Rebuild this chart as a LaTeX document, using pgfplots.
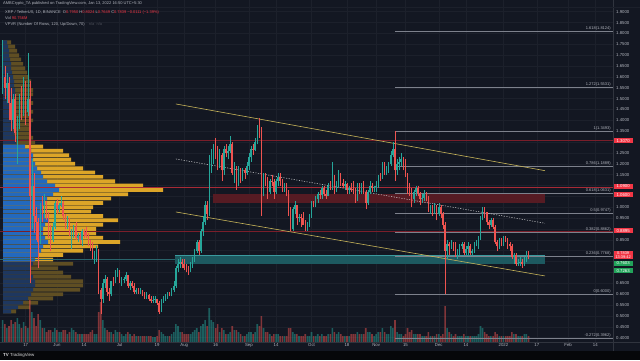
\documentclass[border=0pt]{standalone}
\usepackage{pgfplots}
\pgfplotsset{compat=1.18}
\usepackage{pgfplotstable}
\usepackage{fontspec}
\setmainfont{Liberation Sans}

\definecolor{bg}{HTML}{131722}
\definecolor{gridc}{HTML}{1C202B}
\definecolor{upc}{HTML}{26A69A}
\definecolor{dnc}{HTML}{EF5350}
\definecolor{lab}{HTML}{B2B5BE}
\definecolor{fibc}{HTML}{7D818C}
\definecolor{chan}{HTML}{C8B55A}
\definecolor{redbox}{HTML}{F23645}
\definecolor{grnbox}{HTML}{22A35A}
\definecolor{zoner}{HTML}{561B23}
\definecolor{zonet}{HTML}{1D5960}
\definecolor{zonetl}{HTML}{3A9A9E}
\definecolor{redln}{HTML}{7A1E2A}
\definecolor{redln2}{HTML}{A82A36}
\definecolor{vpo}{HTML}{DCA528}
\definecolor{vpb}{HTML}{2369BE}
\definecolor{vpod}{HTML}{5F4E23}
\definecolor{vpbd}{HTML}{1E375F}

\pgfplotstableread{
d o h l c v
-26 1.58 1.77 1.52 1.60 22
-25 1.60 1.65 1.50 1.55 18
-24 1.55 1.62 1.48 1.57 14
-23 1.57 1.60 1.40 1.48 16
-22 1.48 1.55 1.35 1.40 22
-21 1.40 1.52 1.36 1.50 18
-20 1.50 1.52 1.30 1.34 20
-19 1.34 1.42 1.20 1.40 24
-18 1.40 1.52 1.36 1.48 18
-17 1.48 1.56 1.40 1.45 14
-16 1.45 1.60 1.42 1.52 20
-15 1.52 1.58 1.38 1.44 16
-14 1.44 1.71 1.42 1.50 14
-13 1.50 1.58 0.65 1.05 42
-12 1.05 1.22 0.90 1.10 30
-11 1.10 1.16 0.88 0.96 24
-10 0.96 1.00 0.85 0.93 16
-9 0.93 0.95 0.72 0.84 28
-8 0.84 1.02 0.83 0.99 22
-7 0.99 1.05 0.93 0.97 14
-6 0.97 1.06 0.95 1.01 14
-5 1.01 1.03 0.94 0.97 10
-4 0.97 0.98 0.86 0.89 12
-3 0.89 0.92 0.80 0.85 12
-2 0.85 0.93 0.84 0.91 10
-1 0.91 1.03 0.90 1.02 14
0 1.02 1.04 0.97 0.99 12
1 0.99 1.02 0.98 1.01 10
2 1.01 1.05 1.00 1.02 10
3 1.02 1.03 0.94 0.96 12
4 0.96 0.97 0.90 0.92 12
5 0.92 0.96 0.90 0.94 8
6 0.94 0.95 0.87 0.88 10
7 0.88 0.90 0.81 0.89 14
8 0.89 0.92 0.86 0.91 12
9 0.91 0.93 0.85 0.86 10
10 0.86 0.88 0.84 0.87 8
11 0.87 0.88 0.83 0.85 8
12 0.85 0.90 0.82 0.89 8
13 0.89 0.90 0.86 0.885 8
14 0.885 0.91 0.86 0.87 8
15 0.87 0.88 0.82 0.83 8
16 0.83 0.85 0.80 0.825 10
17 0.825 0.84 0.76 0.77 12
18 0.77 0.80 0.74 0.78 8
19 0.78 0.82 0.75 0.80 8
20 0.80 0.81 0.60 0.62 30
21 0.62 0.63 0.51 0.58 40
22 0.58 0.67 0.56 0.65 22
23 0.65 0.69 0.63 0.67 14
24 0.67 0.68 0.59 0.61 12
25 0.61 0.63 0.57 0.60 10
26 0.60 0.66 0.59 0.66 10
27 0.66 0.68 0.64 0.655 8
28 0.655 0.71 0.65 0.70 12
29 0.70 0.72 0.68 0.705 10
30 0.705 0.71 0.65 0.66 10
31 0.66 0.68 0.64 0.665 8
32 0.665 0.68 0.65 0.67 6
33 0.67 0.70 0.66 0.69 8
34 0.69 0.69 0.63 0.64 10
35 0.64 0.66 0.62 0.65 8
36 0.65 0.66 0.63 0.64 6
37 0.64 0.65 0.60 0.61 8
38 0.61 0.63 0.60 0.62 6
39 0.62 0.63 0.60 0.61 6
40 0.61 0.63 0.60 0.62 6
41 0.62 0.62 0.59 0.60 6
42 0.60 0.61 0.58 0.59 6
43 0.59 0.61 0.58 0.595 6
44 0.595 0.60 0.57 0.58 6
45 0.58 0.59 0.56 0.57 6
46 0.57 0.59 0.56 0.575 5
47 0.575 0.59 0.56 0.58 5
48 0.58 0.58 0.55 0.56 6
49 0.56 0.57 0.51 0.52 12
50 0.52 0.58 0.52 0.57 10
51 0.57 0.59 0.56 0.58 8
52 0.58 0.60 0.57 0.59 6
53 0.59 0.61 0.58 0.60 6
54 0.60 0.61 0.59 0.595 6
55 0.595 0.63 0.59 0.62 8
56 0.62 0.66 0.61 0.64 10
57 0.64 0.73 0.63 0.72 18
58 0.72 0.76 0.70 0.74 16
59 0.74 0.77 0.72 0.75 10
60 0.75 0.76 0.72 0.74 10
61 0.74 0.76 0.71 0.72 8
62 0.72 0.74 0.70 0.715 8
63 0.715 0.73 0.69 0.71 8
64 0.71 0.75 0.70 0.74 8
65 0.74 0.77 0.72 0.76 10
66 0.76 0.81 0.75 0.80 12
67 0.80 0.85 0.79 0.84 14
68 0.84 0.85 0.78 0.80 10
69 0.80 0.90 0.79 0.89 16
70 0.89 0.96 0.87 0.93 18
71 0.93 1.03 0.92 1.01 22
72 1.01 1.03 0.94 0.97 16
73 0.97 1.24 0.96 1.22 34
74 1.22 1.27 1.16 1.23 22
75 1.23 1.29 1.20 1.28 20
76 1.28 1.32 1.22 1.27 14
77 1.27 1.28 1.17 1.21 18
78 1.21 1.27 1.18 1.24 10
79 1.24 1.25 1.12 1.17 14
80 1.17 1.28 1.15 1.27 12
81 1.27 1.29 1.23 1.25 8
82 1.25 1.28 1.22 1.26 8
83 1.26 1.33 1.25 1.29 10
84 1.29 1.30 1.15 1.16 16
85 1.16 1.21 1.11 1.18 12
86 1.18 1.19 1.08 1.13 12
87 1.13 1.19 1.10 1.17 10
88 1.17 1.18 1.11 1.14 8
89 1.14 1.18 1.12 1.17 6
90 1.17 1.18 1.13 1.16 6
91 1.16 1.21 1.15 1.19 8
92 1.19 1.25 1.17 1.23 10
93 1.23 1.28 1.21 1.27 10
94 1.27 1.29 1.24 1.265 8
95 1.265 1.32 1.26 1.30 10
96 1.30 1.38 1.29 1.37 18
97 1.37 1.41 1.32 1.36 16
98 1.36 1.37 0.96 1.12 26
99 1.12 1.16 1.05 1.13 14
100 1.13 1.16 1.10 1.125 10
101 1.125 1.14 1.04 1.07 10
102 1.07 1.13 1.06 1.12 8
103 1.12 1.15 1.10 1.115 6
104 1.115 1.13 1.04 1.07 8
105 1.07 1.13 1.06 1.12 8
106 1.12 1.16 1.10 1.14 8
107 1.14 1.16 1.10 1.12 6
108 1.12 1.13 1.07 1.09 6
109 1.09 1.11 1.07 1.10 6
110 1.10 1.11 1.05 1.07 6
111 1.07 1.08 0.96 0.98 14
112 0.98 1.00 0.89 0.90 14
113 0.90 1.00 0.89 0.99 10
114 0.99 1.03 0.97 1.01 8
115 1.01 1.01 0.92 0.95 8
116 0.95 0.97 0.93 0.955 6
117 0.955 0.97 0.91 0.95 6
118 0.95 0.98 0.92 0.92 6
119 0.92 0.94 0.89 0.90 8
120 0.90 0.93 0.89 0.92 6
121 0.92 0.97 0.91 0.96 6
122 0.96 1.03 0.95 1.02 10
123 1.02 1.03 1.00 1.01 6
124 1.01 1.05 1.00 1.04 6
125 1.04 1.07 1.02 1.06 8
126 1.06 1.08 1.04 1.055 6
127 1.055 1.10 1.04 1.09 8
128 1.09 1.10 1.05 1.06 6
129 1.06 1.08 1.04 1.05 6
130 1.05 1.11 1.05 1.10 8
131 1.10 1.12 1.08 1.09 8
132 1.09 1.21 1.08 1.14 14
133 1.14 1.15 1.06 1.09 10
134 1.09 1.12 1.07 1.10 8
135 1.10 1.17 1.09 1.14 10
136 1.14 1.16 1.10 1.11 8
137 1.11 1.13 1.09 1.10 6
138 1.10 1.12 1.08 1.105 6
139 1.105 1.11 1.06 1.08 6
140 1.08 1.10 1.06 1.09 6
141 1.09 1.11 1.07 1.085 8
142 1.085 1.12 1.06 1.08 8
143 1.08 1.09 1.02 1.04 8
144 1.04 1.11 1.03 1.10 10
145 1.10 1.11 1.06 1.07 8
146 1.07 1.11 1.06 1.10 8
147 1.10 1.12 1.06 1.07 8
148 1.07 1.08 0.99 1.02 14
149 1.02 1.08 1.01 1.07 10
150 1.07 1.12 1.06 1.10 10
151 1.10 1.11 1.07 1.09 8
152 1.09 1.10 1.07 1.095 6
153 1.095 1.12 1.07 1.10 8
154 1.10 1.15 1.09 1.14 10
155 1.14 1.16 1.12 1.135 10
156 1.135 1.21 1.13 1.19 14
157 1.19 1.21 1.15 1.17 10
158 1.17 1.19 1.15 1.175 8
159 1.175 1.21 1.16 1.20 8
160 1.20 1.26 1.19 1.24 16
161 1.24 1.30 1.23 1.27 14
162 1.27 1.35 1.12 1.17 22
163 1.17 1.22 1.15 1.20 10
164 1.20 1.23 1.17 1.21 8
165 1.21 1.25 1.19 1.22 8
166 1.22 1.23 1.17 1.19 6
167 1.19 1.22 1.14 1.16 8
168 1.16 1.16 1.06 1.10 14
169 1.10 1.11 1.05 1.08 10
170 1.08 1.09 1.00 1.04 12
171 1.04 1.08 1.02 1.07 8
172 1.07 1.10 1.05 1.09 8
173 1.09 1.10 1.05 1.06 8
174 1.06 1.07 1.01 1.04 8
175 1.04 1.06 1.02 1.045 6
176 1.045 1.08 1.03 1.06 6
177 1.06 1.07 1.03 1.04 6
178 1.04 1.05 0.98 0.99 10
179 0.99 1.01 0.97 1.00 6
180 1.00 1.01 0.96 0.98 6
181 0.98 1.02 0.97 1.00 6
182 1.00 1.01 0.94 0.97 8
183 0.97 1.02 0.96 1.00 8
184 1.00 1.01 0.95 0.97 6
185 0.97 0.98 0.90 0.92 8
186 0.92 0.93 0.60 0.80 36
187 0.80 0.85 0.76 0.83 14
188 0.83 0.84 0.78 0.82 10
189 0.82 0.85 0.81 0.83 8
190 0.83 0.84 0.80 0.825 6
191 0.825 0.84 0.77 0.78 8
192 0.78 0.81 0.76 0.79 6
193 0.79 0.83 0.78 0.82 6
194 0.82 0.84 0.81 0.83 6
195 0.83 0.84 0.78 0.79 8
196 0.79 0.82 0.78 0.81 6
197 0.81 0.84 0.78 0.82 6
198 0.82 0.83 0.78 0.79 6
199 0.79 0.81 0.78 0.80 6
200 0.80 0.84 0.79 0.83 6
201 0.83 0.85 0.82 0.835 6
202 0.835 0.87 0.81 0.86 8
203 0.86 0.96 0.85 0.95 16
204 0.95 1.00 0.94 0.99 14
205 0.99 1.00 0.95 0.98 10
206 0.98 0.98 0.92 0.93 8
207 0.93 0.94 0.90 0.92 6
208 0.92 0.95 0.91 0.94 6
209 0.94 0.95 0.90 0.91 6
210 0.91 0.92 0.83 0.84 10
211 0.84 0.85 0.80 0.82 8
212 0.82 0.86 0.81 0.85 6
213 0.85 0.86 0.82 0.83 6
214 0.83 0.87 0.82 0.86 6
215 0.86 0.87 0.84 0.85 6
216 0.85 0.86 0.81 0.83 6
217 0.83 0.84 0.80 0.82 6
218 0.82 0.83 0.76 0.77 10
219 0.77 0.79 0.74 0.78 8
220 0.78 0.79 0.73 0.74 8
221 0.74 0.76 0.73 0.745 6
222 0.745 0.77 0.73 0.75 6
223 0.75 0.76 0.72 0.74 6
224 0.74 0.77 0.73 0.76 8
225 0.76 0.80 0.75 0.795 8
226 0.795 0.80 0.76 0.784 6
}\candles

\pgfplotstableread{
p t b
1.76 8 4
1.74 12 5
1.72 14 6
1.70 16 6
1.68 18 7
1.66 20 8
1.64 22 8
1.62 24 9
1.60 26 10
1.58 28 11
1.56 28 11
1.54 30 12
1.52 30 12
1.50 28 11
1.48 30 12
1.46 28 11
1.44 30 12
1.42 28 11
1.40 30 12
1.38 28 11
1.36 26 10
1.34 28 11
1.32 30 12
1.30 32 13
0.74 70 30
0.72 55 28
0.70 60 28
0.68 68 30
0.66 80 32
0.64 80 32
0.62 77 30
0.60 60 28
0.58 50 25
0.56 35 20
0.54 27 15
0.52 13 8
}\vpdim

\pgfplotstableread{
p t b
1.28 40 22
1.26 60 28
1.24 66 30
1.22 68 30
1.20 72 32
1.18 80 34
1.16 92 38
1.14 100 40
1.12 112 44
1.10 140 52
1.08 160 56
1.06 125 50
1.04 108 44
1.02 100 42
1.00 90 40
0.98 88 40
0.96 100 42
0.94 115 45
0.92 100 42
0.90 93 40
0.88 93 40
0.86 100 42
0.84 117 45
0.82 95 40
0.80 80 38
0.78 60 35
0.76 50 32
}\vpva

\tikzset{
  lbl/.style={font=\fontsize{4.3}{4.6}\selectfont},
  pbox/.style={anchor=west, lbl, text=white, inner sep=0.5pt, minimum width=19pt, minimum height=5.4pt, align=center},
  fibl/.style={anchor=south east, font=\fontsize{4}{4.4}\selectfont, text=lab, inner sep=0.6pt},
}
\pgfplotsset{
  base/.style={at={(0pt,18pt)}, anchor=south west, width=613pt, height=342pt,
    scale only axis, xmin=-27.3, xmax=266.5, ymin=0.38, ymax=1.954},
}

\begin{document}
\begin{tikzpicture}
\path[use as bounding box, fill=bg] (0pt,0pt) rectangle (640pt,360pt);
\fill[black!70!bg] (0pt,0pt) rectangle (640pt,9.5pt);

% grid and tick labels
\begin{axis}[base, axis line style={draw=none},
  xtick={-15,0,13,30,48,61,76,92,105,122,139,153,167,183,196,214,230,245,258},
  xticklabels={17,Jun,14,Jul,19,Aug,16,Sep,14,Oct,18,Nov,15,Dec,14,2022,17,Feb,14},
  ytick={0.40,0.45,0.50,0.55,0.60,0.65,0.70,0.75,0.80,0.85,0.90,0.95,1.00,1.05,1.10,1.15,1.20,1.25,1.30,1.35,1.40,1.45,1.50,1.55,1.60,1.65,1.70,1.75,1.80,1.85,1.90},
  yticklabels={0.4000,0.4500,0.5000,0.5500,0.6000,0.6500,{},{},{},0.8500,{},0.9500,1.0000,{},{},1.1500,1.2000,1.2500,{},1.3500,1.4000,1.4500,1.5000,1.5500,1.6000,1.6500,1.7000,1.7500,1.8000,1.8500,1.9000},
  xtick pos=bottom, ytick pos=right, yticklabel pos=right,
  major tick length=0pt,
  grid=major, major grid style={draw=gridc, line width=0.5pt},
  tick label style={lbl, text=lab},
  xticklabel style={inner sep=1pt, yshift=-0.3pt},
  yticklabel style={anchor=west, xshift=3pt, inner sep=0pt},
]
\end{axis}

% volume profile (x in pixels)
\begin{axis}[base, hide axis, xmin=-3, xmax=610]
\addplot[xbar, bar width=0.017, bar shift=0pt, fill=vpod, draw=none] table[x=t,y=p]{\vpdim};
\addplot[xbar, bar width=0.017, bar shift=0pt, fill=vpbd, draw=none] table[x=b,y=p]{\vpdim};
\addplot[xbar, bar width=0.017, bar shift=0pt, fill=vpo, draw=none] table[x=t,y=p]{\vpva};
\addplot[xbar, bar width=0.017, bar shift=0pt, fill=vpb, draw=none] table[x=b,y=p]{\vpva};
\end{axis}

% volume bars (height in pixels)
\begin{axis}[base, hide axis, ymin=0, ymax=342]
\addplot[ybar, bar width=0.75, bar shift=0pt, fill=upc, fill opacity=0.5, draw=none,
  restrict expr to domain={\thisrow{c}-\thisrow{o}}{0:10}] table[x=d, y=v]{\candles};
\addplot[ybar, bar width=0.75, bar shift=0pt, fill=dnc, fill opacity=0.5, draw=none,
  restrict expr to domain={\thisrow{c}-\thisrow{o}}{-10:-0.0001}] table[x=d, y=v]{\candles};
\end{axis}

% main price panel
\begin{axis}[base, hide axis, clip=false]
% zones
\addplot[fill=zoner, draw=none] coordinates {(75,1.02) (233.9,1.02) (233.9,1.063) (75,1.063)} -- cycle;
\addplot[fill=zonet, draw=none] coordinates {(56.6,0.739) (233.9,0.739) (233.9,0.778) (56.6,0.778)} -- cycle;
\addplot[zonetl, line width=0.6pt] coordinates {(56.6,0.778) (233.9,0.778)};
\addplot[zonetl!60!bg, line width=0.5pt] coordinates {(-27.3,0.762) (56.6,0.762)};
% horizontal levels
\addplot[redln, line width=0.6pt] coordinates {(-27.3,1.307) (266.5,1.307)};
\addplot[redln2, line width=0.7pt] coordinates {(-27.3,1.09) (266.5,1.09)};
\addplot[redln, line width=0.5pt] coordinates {(-27.3,0.8895) (266.5,0.8895)};
% fib levels
\foreach \lv in {1.8124,1.5531,1.3493,1.1889,1.0631,0.9747,0.8862,0.7768,0.6000,0.3962}{
  \addplot[fibc, line width=0.5pt] coordinates {(162,\lv) (266.5,\lv)};
}
% channel
\addplot[chan, line width=0.6pt] coordinates {(57,1.4755) (233.9,1.1685)};
\addplot[chan, line width=0.6pt] coordinates {(57,0.9785) (233.9,0.684)};
\addplot[white!80!bg, line width=0.5pt, dash pattern=on 1.2pt off 1.4pt] coordinates {(57,1.2224) (233.9,0.9265)};
% candles: wicks
\addplot[draw=none, mark=none, restrict expr to domain={\thisrow{c}-\thisrow{o}}{0:10},
  error bars/.cd, y dir=plus, y explicit, error mark=none,
  error bar style={draw=upc, line width=0.45pt, solid}]
  table[x=d, y=l, y error plus expr=\thisrow{h}-\thisrow{l}, y error minus expr=0]{\candles};
\addplot[draw=none, mark=none, restrict expr to domain={\thisrow{c}-\thisrow{o}}{-10:-0.0001},
  error bars/.cd, y dir=plus, y explicit, error mark=none,
  error bar style={draw=dnc, line width=0.45pt, solid}]
  table[x=d, y=l, y error plus expr=\thisrow{h}-\thisrow{l}, y error minus expr=0]{\candles};
% candles: bodies
\addplot[draw=none, mark=none, restrict expr to domain={\thisrow{c}-\thisrow{o}}{0:10},
  error bars/.cd, y dir=plus, y explicit, error mark=none,
  error bar style={draw=upc, line width=1.5pt, solid}]
  table[x=d, y=o, y error plus expr={max(\thisrow{c}-\thisrow{o},0.004)}, y error minus expr=0]{\candles};
\addplot[draw=none, mark=none, restrict expr to domain={\thisrow{c}-\thisrow{o}}{-10:-0.0001},
  error bars/.cd, y dir=plus, y explicit, error mark=none,
  error bar style={draw=dnc, line width=1.5pt, solid}]
  table[x=d, y=c, y error plus expr={max(\thisrow{o}-\thisrow{c},0.004)}, y error minus expr=0]{\candles};
% fib labels
\node[fibl] at (axis cs:265.8,1.8124) {1.618(1.8124)};
\node[fibl] at (axis cs:265.8,1.5531) {1.272(1.5531)};
\node[fibl] at (axis cs:265.8,1.3493) {1(1.3493)};
\node[fibl] at (axis cs:265.8,1.1889) {0.786(1.1889)};
\node[fibl] at (axis cs:265.8,1.0631) {0.618(1.0631)};
\node[fibl] at (axis cs:265.8,0.9747) {0.5(0.9747)};
\node[fibl] at (axis cs:265.8,0.8862) {0.382(0.8862)};
\node[fibl] at (axis cs:265.8,0.7768) {0.236(0.7768)};
\node[fibl] at (axis cs:265.8,0.6000) {0(0.6000)};
\node[fibl] at (axis cs:265.8,0.3962) {-0.272(0.3962)};
% price boxes
\node[pbox, fill=redbox] at (axis cs:266.7,1.3066) {1.3070};
\node[pbox, fill=redbox] at (axis cs:266.7,1.0958) {1.0900};
\node[pbox, fill=redbox] at (axis cs:266.7,1.0580) {1.0600};
\node[pbox, fill=redbox] at (axis cs:266.7,0.8924) {0.8895};
\node[pbox, fill=redbox, font=\fontsize{3.9}{4.3}\selectfont] at (axis cs:266.7,0.7806) {0.7839\\13:39:42};
\node[pbox, fill=grnbox] at (axis cs:266.7,0.7424) {0.7603};
\node[pbox, fill=grnbox] at (axis cs:266.7,0.7083) {0.7263};
\end{axis}

% separators
\draw[lab!18!bg, line width=0.5pt] (613pt,9.5pt) -- (613pt,360pt);
\draw[lab!18!bg, line width=0.5pt] (0pt,18pt) -- (640pt,18pt);
\draw[gridc, line width=0.4pt] (0pt,353pt) -- (640pt,353pt);

% header
\node[anchor=west, font=\fontsize{4}{4.4}\selectfont, text=lab, inner sep=0pt] at (3pt,356.6pt) {AMBCrypto\_TA published on TradingView.com, Jan 13, 2022 16:50 UTC+5:30};
\node[anchor=west, font=\fontsize{4}{4.4}\selectfont, text=lab, inner sep=0pt] at (5pt,347.7pt) {XRP / TetherUS, 1D, BINANCE\ \ O\textcolor{redbox}{0.7950} H\textcolor{redbox}{0.8024} L\textcolor{redbox}{0.7649} C\textcolor{redbox}{0.7839} \textcolor{redbox}{−0.0111 (−1.39\%)}};
\node[anchor=west, font=\fontsize{4}{4.4}\selectfont, text=lab, inner sep=0pt] at (5pt,341.7pt) {Vol \textcolor{redbox}{90.756M}};
\node[anchor=west, font=\fontsize{4}{4.4}\selectfont, text=lab, inner sep=0pt] at (5pt,336pt) {VPVR (Number Of Rows, 120, Up/Down, 70)\quad\textcolor{lab!35!bg}{n/a\ \ n/a}};
% footer
\node[anchor=west, font=\fontsize{4.4}{5}\selectfont\bfseries, text=white!85!bg, inner sep=0pt] at (3pt,4.6pt) {TV\ \mdseries TradingView};
\end{tikzpicture}
\end{document}
